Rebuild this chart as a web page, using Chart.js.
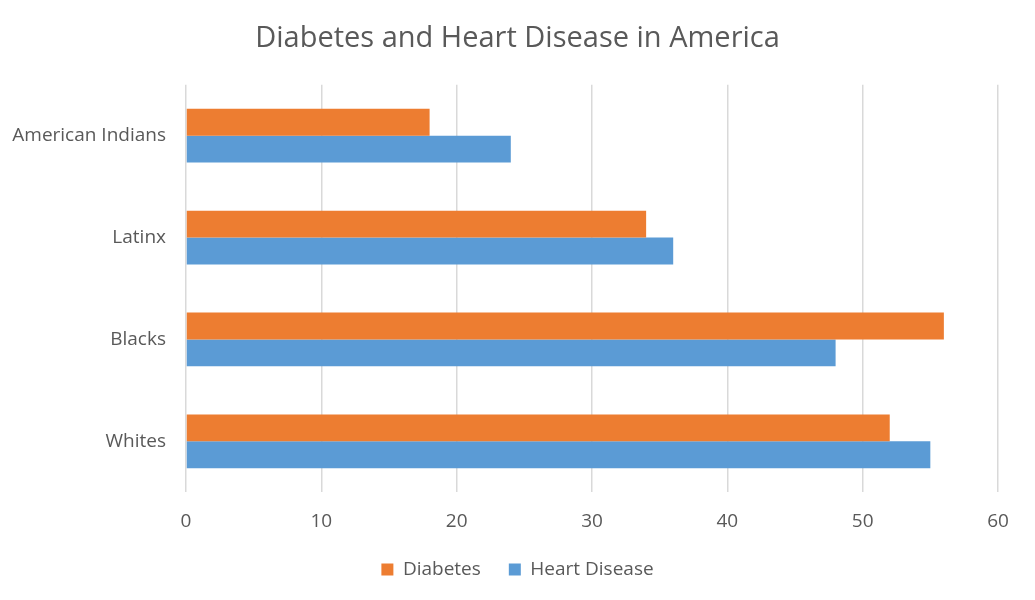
<!DOCTYPE html>
<html>
<head>
<meta charset="utf-8">
<script src="https://cdn.jsdelivr.net/npm/chart.js@4"></script>
<style>
html,body{margin:0;padding:0;background:#fff;}
#wrap{width:1035px;height:600px;position:relative;}
</style>
</head>
<body>
<div id="wrap"><canvas id="c" width="1035" height="600"></canvas></div>
<script>
const categories = ["American Indians", "Latinx", "Blacks", "Whites"];
const diabetes = [18, 34, 56, 52];
const heartDisease = [24, 36, 48, 55];
const xTicks = [0, 10, 20, 30, 40, 50, 60];
const seriesNames = ["Diabetes", "Heart Disease"];

const FONT = "'Open Sans', 'Noto Sans', sans-serif";
const TXT = "#595959";

// Legend uses wide horizontal item spacing; lift it back up by the extra top padding.
const legendLift = {
  id: 'legendLift',
  afterUpdate(chart) {
    if (chart.legend) {
      chart.legend.top -= 19;
      chart.legend.bottom -= 19;
    }
  }
};

new Chart(document.getElementById('c'), {
  type: 'bar',
  data: {
    labels: categories,
    datasets: [
      { label: seriesNames[0], data: diabetes, backgroundColor: '#ED7D31', borderWidth: 0 },
      { label: seriesNames[1], data: heartDisease, backgroundColor: '#5B9BD5', borderWidth: 0 }
    ]
  },
  plugins: [legendLift],
  options: {
    indexAxis: 'y',
    responsive: false,
    animation: false,
    devicePixelRatio: 1,
    layout: { padding: { left: 0, right: 0, top: 0, bottom: -8 } },
    datasets: { bar: { categoryPercentage: 0.528, barPercentage: 1.0 } },
    plugins: {
      title: {
        display: true,
        text: 'Diabetes and Heart Disease in America',
        color: TXT,
        font: { family: FONT, size: 29, weight: 'normal' },
        padding: { top: 21, bottom: 29 }
      },
      legend: {
        position: 'bottom',
        labels: {
          color: TXT,
          font: { family: FONT, size: 19 },
          boxWidth: 12,
          boxHeight: 12,
          padding: 28
        }
      },
      tooltip: { enabled: false }
    },
    scales: {
      x: {
        min: 0,
        max: 60,
        afterBuildTicks: (s) => { s.ticks = xTicks.map(v => ({ value: v })); },
        grid: { color: '#d9d9d9', lineWidth: 1.5, drawTicks: false },
        border: { display: false },
        ticks: { color: TXT, font: { family: FONT, size: 19 }, padding: 18 }
      },
      y: {
        grid: { display: false, drawTicks: false },
        border: { display: false },
        afterFit: (s) => { s.width = 186; },
        ticks: { color: TXT, font: { family: FONT, size: 19 }, padding: 20 }
      },
      yRight: {
        type: 'category',
        position: 'right',
        grid: { display: false, drawTicks: false },
        border: { display: false },
        ticks: { display: false },
        afterFit: (s) => { s.width = 37; }
      }
    }
  }
});
</script>
</body>
</html>
